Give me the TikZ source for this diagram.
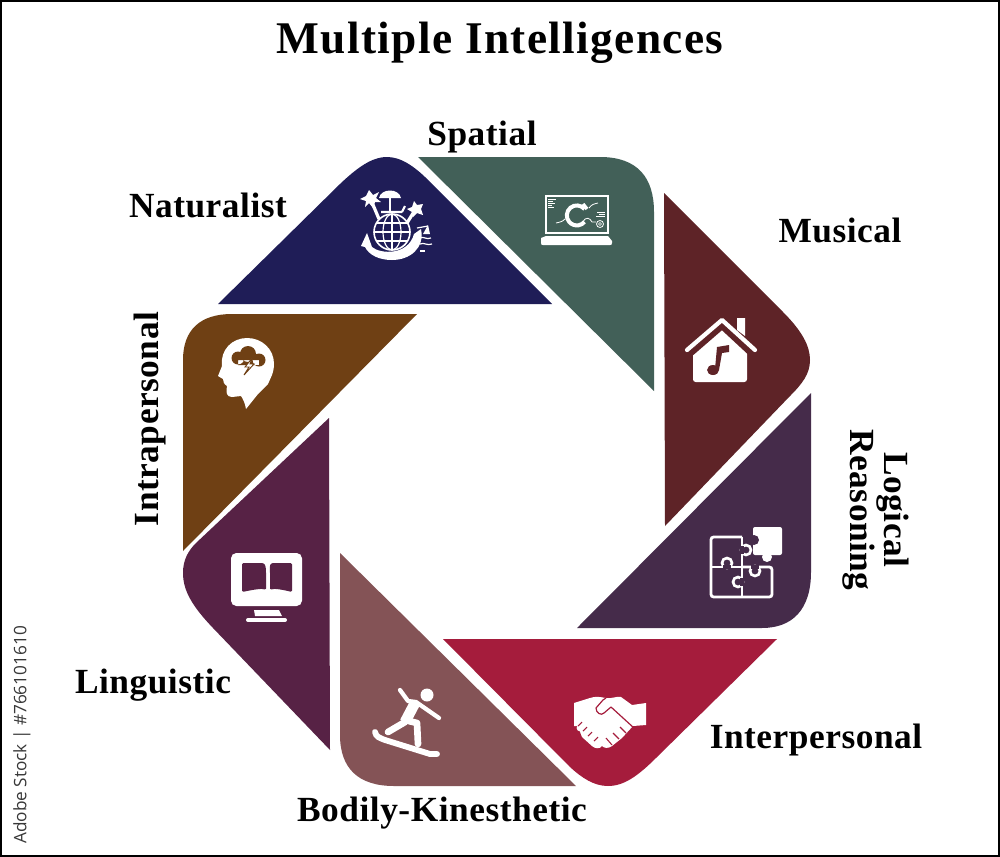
\documentclass[tikz,border=0pt]{standalone}
\usepackage{fontspec}
\setmainfont{Liberation Serif}
\newfontfamily\lblfont[LetterSpace=1.5]{Liberation Serif Bold}
\newfontfamily\ttlfont[LetterSpace=3]{Liberation Serif Bold}
\newfontfamily\sidefont{Open Sans}
\definecolor{cnav}{HTML}{1F1D57}
\definecolor{cspa}{HTML}{426058}
\definecolor{cmus}{HTML}{5E2327}
\definecolor{clog}{HTML}{452B4A}
\definecolor{cint}{HTML}{A51C3C}
\definecolor{cbod}{HTML}{845356}
\definecolor{clin}{HTML}{572245}
\definecolor{ctra}{HTML}{6F4014}
\tikzset{
  lbl/.style={inner sep=0pt,text=black,align=center,font=\lblfont\fontsize{26.5}{28}\selectfont},
  ttl/.style={inner sep=0pt,text=black,font=\ttlfont\fontsize{34}{36}\selectfont},
  wl/.style={draw=white,line width=1.2pt},
  wt/.style={draw=white,line width=2.4pt,line cap=round},
}
\begin{document}
\begin{tikzpicture}[x=.75pt,y=-.75pt]
\useasboundingbox (0,0) rectangle (1000,857);
\fill[white] (0,0) rectangle (1000,857);
\draw[black,line width=1.1pt] (1,1) rectangle (999,856);

% segments
\fill[cnav] (218,304) -- (340,184) .. controls (362,163) and (375,157) .. (387,157) .. controls (400,157) and (414,165) .. (432,184) -- (552,304) -- cycle;
\fill[cspa] (418,157) -- (600,157) .. controls (638,157) and (654,178) .. (654,212) -- (654,391) -- cycle;
\fill[cmus] (664,193) -- (783,312) .. controls (802,331) and (810,346) .. (810,360) .. controls (810,374) and (802,384) .. (790,396) -- (665,526) -- cycle;
\fill[clog] (811,393) -- (811,572) .. controls (811,610) and (792,628) .. (762,628) -- (577,628) -- cycle;
\fill[cint] (443,639) -- (777,639) -- (657,757) .. controls (638,776) and (624,786) .. (608,786) .. controls (594,786) and (582,778) .. (570,767) -- cycle;
\fill[cbod] (340,553) -- (576,786) -- (394,786) .. controls (358,786) and (340,768) .. (340,735) -- cycle;
\fill[clin] (329,418) -- (330,750) -- (213,628) .. controls (194,608) and (183,592) .. (183,573) .. controls (183,560) and (188,551) .. (196,543) -- cycle;
\fill[ctra] (417,314) -- (183,551) -- (183,360) .. controls (183,330) and (200,314) .. (232,314) -- cycle;

% Naturalist icon
\draw[wl] (392,232) circle (18);
\draw[wl,line width=.9pt] (392,232) ellipse [x radius=9,y radius=18];
\draw[wl,line width=.9pt] (392,214) -- (392,250) (374,232) -- (410,232) (377,223) -- (407,223) (377,241) -- (407,241);
\fill[white] (421,229) .. controls (425,248) and (410,260) .. (392,260) .. controls (379,260) and (369,255) .. (365,247) -- (361,246) -- (367,233) -- (372,247) .. controls (380,254) and (408,256) .. (414,234) -- cycle;
\draw[wt,line cap=butt,line width=2.4pt] (371,200) -- (379,219);
\draw[wt,line cap=butt,line width=2.4pt] (415,210) -- (407,223);
\fill[white] (369,190) -- (373,195) -- (379,192) -- (376,198) -- (381,202) -- (375,202) -- (373,208) -- (369,203) -- (365,207) -- (366,201) -- (360,199) -- (366,196) -- cycle;
\fill[white] (414,201) -- (417,205) -- (423,204) -- (421,209) -- (423,215) -- (417,213) -- (413,217) -- (412,212) -- (407,209) -- (412,207) -- cycle;
\fill[white] (379,198) .. controls (381,188) and (399,188) .. (401,198) -- cycle;
\draw[wl] (390,196) -- (390,211);
\draw[wl,line width=1.6pt] (381,212) -- (402,212) (402,212) -- (405,206);
\fill[white] (428,225) -- (430,234) -- (423,234) -- cycle;
\draw[wl,line width=.9pt] (417,228) -- (428,226);
\draw[wl,line width=.9pt] (420,238) .. controls (424,236) and (426,240) .. (431,238);
\draw[wl,line width=.9pt] (420,244) .. controls (424,242) and (427,246) .. (432,244);
\draw[wl,line width=.9pt] (420,251) -- (425,251);

% Spatial icon
\draw[wl,line width=1.1pt] (546,196) rectangle (608,233);
\fill[white] (541,238) -- (546,236) -- (608,236) -- (612,241) -- (612,243) .. controls (612,245) and (611,245) .. (610,245) -- (543,245) .. controls (542,245) and (541,245) .. (541,243) -- cycle;
\draw[wl,line width=3pt] (584.5,209) arc (-40:-320:10);
\draw[wl,line width=2.6pt] (583,204) -- (587,209);
\draw[wl,line width=.6pt] (556,223) .. controls (560,222) and (562,222) .. (565,219);
\draw[wl,line width=.6pt] (589,208) .. controls (592,204) and (594,204) .. (598,203);
\draw[wl,line width=.6pt] (583,222) .. controls (586,216) and (590,218) .. (592,222) -- (596,222);
\draw[wl,line width=.5pt] (548,199) -- (556,199) (548,201) -- (553,201) (548,203) -- (555,203) (548,205) -- (552,205) (548,207) -- (554,207);
\draw[wl,line width=.5pt] (597,212) -- (605,212) (599,214) -- (605,214) (596,216) -- (605,216);
\draw[wl,line width=.6pt] (600,224) circle (3.5);
\draw[wl,line width=.5pt] (600,224) circle (1.5);

% Musical icon
\fill[white,rounded corners=2pt] (693,349) -- (722,327) -- (747,349) -- (747,382) -- (693,382) -- cycle;
\fill[white] (737,318) -- (745,318) -- (745,336) -- (737,330) -- cycle;
\draw[wt,line width=3.6pt,line join=round,draw=cmus] (692,353) -- (722,327) -- (750,353);
\draw[wt,line width=3.2pt,line join=round] (687,350) -- (722,320) -- (755,350);
\fill[cmus] (713,370) ellipse [x radius=6,y radius=5];
\fill[cmus] (715,369) -- (717,347) -- (729,345) -- (729,352) -- (722,353) -- (719,370) -- cycle;

% Logical icon
\draw[wl,line width=2.1pt,rounded corners=2pt] (742,537) -- (711,537) -- (711,597) -- (772,597) -- (772,567) -- (742,567);
\draw[wl,line width=2.1pt] (742,537) -- (742,597) (711,567) -- (742,567);
\fill[white,rounded corners=1.5pt] (753,527) rectangle (782,555);
\fill[white] (767,557) circle (5);
\fill[clog] (754,540) circle (5);
\draw[wl,line width=2pt,fill=clog] (746,550) circle (5);
\draw[clog,line width=2.6pt] (742,546) -- (742,554);
\draw[wl,line width=2pt,fill=clog] (727,563) circle (5);
\draw[clog,line width=2.6pt] (723,567) -- (731,567);
\draw[wl,line width=2pt,fill=clog] (738,582) circle (5);
\draw[clog,line width=2.6pt] (742,578) -- (742,586);
\draw[wl,line width=2pt,fill=clog] (755,571) circle (5);
\draw[clog,line width=2.6pt] (751,567) -- (759,567);

% Interpersonal icon
\fill[white] (574,703) -- (590,698) .. controls (596,696) and (600,697) .. (606,698) .. controls (612,699) and (616,696) .. (621,697) -- (632,705) -- (646,703) -- (646,725) -- (633,726) -- (622,738) -- (612,746) .. controls (608,749) and (604,748) .. (602,746) .. controls (600,749) and (595,749) .. (592,746) -- (582,737) -- (578,726) -- (574,726) -- cycle;
\fill[white] (580,728) circle (3.4) (584,733) circle (3.4) (589,738) circle (3.4) (595,743) circle (3.4);
\draw[cint,line width=.9pt,line join=round] (606,698) -- (603,700) -- (596,708) .. controls (596,713) and (601,716) .. (604,713) -- (611,707) -- (634,728);
\draw[cint,line width=.8pt] (578,726) -- (582,722) (583,731) -- (587,727) (588,736) -- (592,732) (594,741) -- (598,737);
\draw[cint,line width=.8pt] (613,733) -- (619,739) (606,738) -- (612,745) (620,727) -- (626,733);

% Bodily icon
\fill[white] (427,695) circle (6.5);
\draw[wt,line width=3.2pt,line join=round] (400,690) -- (408,701) -- (416,702) -- (439,718);
\draw[wt,line width=8pt,line cap=butt] (415,703) -- (405,722);
\draw[wt,line width=5pt,line join=round] (405,722) -- (388,732);
\draw[wt,line width=5pt,line join=round] (405,720) -- (417,723) -- (418,744);
\draw[wt,line width=4.4pt] (375,732) .. controls (376,737) and (380,738) .. (385,740) -- (430,754) -- (437,754);

% Linguistic icon
\fill[white,rounded corners=4pt] (231,553) rectangle (302,606);
\fill[clin,rounded corners=1pt] (242,563) -- (262,563) .. controls (266,564) and (266,570) .. (266,574) -- (266,590) .. controls (262,588) and (252,590) .. (242,592) -- cycle;
\fill[clin,rounded corners=1pt] (292,563) -- (273,563) .. controls (269,564) and (270,570) .. (270,574) -- (270,590) .. controls (274,588) and (284,590) .. (292,592) -- cycle;
\fill[white] (254,610) -- (279,610) -- (282,616) -- (255,616) -- cycle;
\draw[wt,line width=3pt] (248,620) -- (285,620);

% Intrapersonal icon
\fill[white] (247,338) .. controls (262,338) and (274,349) .. (274,364) .. controls (274,373) and (270,379) .. (268,384) .. controls (264,388) and (261,391) .. (258,394) -- (246,409) .. controls (245,403) and (243,399) .. (241,396) -- (232,397) .. controls (226,397) and (226,392) .. (227,386) .. controls (224,384) and (223,382) .. (223,379) -- (218,376) -- (222,366) .. controls (220,350) and (232,338) .. (247,338) -- cycle;
\fill[ctra] (238,358) circle (6.5) (248,354) circle (8) (259,360) circle (6.5) (238,360) rectangle (259,365);
\path[fill=white,draw=ctra,line width=.7pt] (253,357) -- (245,367) -- (249,367) -- (244,375) -- (254,364) -- (250,364) -- cycle;

% text
\node[ttl] (title) at (500,43) {Multiple Intelligences};
\node[lbl] (spatial) at (482,137) {Spatial};
\node[lbl] (naturalist) at (208,205) {Naturalist};
\node[lbl] (musical) at (840,230) {Musical};
\node[lbl,rotate=90] (intra) at (150,419) {Intrapersonal};
\node[lbl,rotate=-90] (logical) at (876,510) {Logical\\[-3pt]Reasoning};
\node[lbl] (linguistic) at (153,685) {Linguistic};
\node[lbl] (inter) at (816,740) {Interpersonal};
\node[lbl] (bodily) at (442,813) {Bodily-Kinesthetic};
\node[rotate=90,inner sep=0pt,text=black!78,font=\sidefont\fontsize{12.9}{15}\selectfont] (stock) at (22,735) {Adobe Stock | \#766101610};
\end{tikzpicture}
\end{document}
